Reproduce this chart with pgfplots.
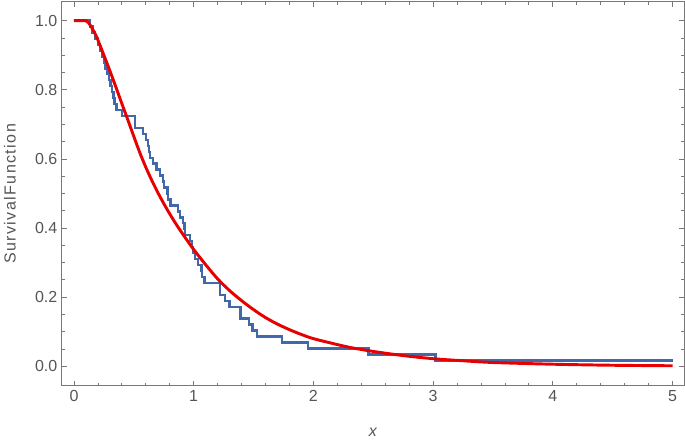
\documentclass[border=0pt]{standalone}
\usepackage{fontspec}
\setmainfont{Liberation Sans}
\usepackage{pgfplots}
\pgfplotsset{compat=1.18}
\usetikzlibrary{calc}
\definecolor{mblue}{RGB}{66,104,172}
\definecolor{mred}{RGB}{232,0,0}
\definecolor{framegray}{RGB}{120,120,120}
\definecolor{textgray}{RGB}{85,85,85}
\begin{document}
\begin{tikzpicture}
\begin{axis}[
  scale only axis, width=466.5pt, height=288pt,
  xmin=-0.1, xmax=5.096, ymin=-0.057, ymax=1.054,
  xtick={0,1,2,3,4,5}, xticklabels={0,1,2,3,4,5},
  ytick={0,0.2,0.4,0.6,0.8,1.0}, yticklabels={0.0,0.2,0.4,0.6,0.8,1.0},
  minor x tick num=4, minor y tick num=3,
  tick pos=both, tick align=inside,
  major tick length=3.75pt, minor tick length=2.25pt,
  every tick/.style={framegray, line width=0.6pt},
  axis line style={framegray, line width=0.75pt},
  tick label style={textgray, font=\fontsize{12}{14}\selectfont},
  xlabel={\itshape x},
  ylabel={SurvivalFunction},
  xlabel style={textgray, font=\fontsize{12}{14}\selectfont, at={(axis description cs:0.5,-0.1198)}, anchor=center},
  ylabel style={textgray, font=\fontsize{12}{14}\selectfont\addfontfeatures{LetterSpace=9}, at={(axis description cs:-0.0836,0.5)}, anchor=center},
  clip=false,
]
\addplot[const plot, mblue, line width=1.8pt] coordinates {
(0,1) (0.135,0.98276) (0.155,0.96552) (0.175,0.94828) (0.2,0.93103) (0.215,0.91379)
(0.235,0.89655) (0.25,0.87931) (0.265,0.86207) (0.28,0.84483) (0.295,0.82759)
(0.305,0.81034) (0.32,0.79310) (0.33,0.77586) (0.34,0.75862) (0.355,0.74138)
(0.40,0.72414) (0.51,0.68966) (0.577,0.67241) (0.60,0.65517) (0.62,0.63793)
(0.628,0.62069) (0.635,0.60345) (0.66,0.58621) (0.69,0.56897) (0.72,0.55172)
(0.745,0.53448) (0.75,0.51724) (0.78,0.5) (0.785,0.48276) (0.805,0.46552)
(0.87,0.44828) (0.885,0.43103) (0.91,0.41379) (0.925,0.39655) (0.93,0.37931)
(0.97,0.36207) (0.985,0.34483) (0.995,0.32759) (1.01,0.31034) (1.035,0.29310)
(1.065,0.27586) (1.07,0.25862) (1.09,0.24138) (1.22,0.20690) (1.26,0.18966)
(1.30,0.17241) (1.39,0.13793) (1.46,0.12069) (1.49,0.10345) (1.53,0.08621)
(1.74,0.06897) (1.955,0.05172) (2.46,0.03448) (3.02,0.01724) (5.0,0.01724)
};
\addplot[smooth, mred, line width=2.2pt] coordinates {
(0,1) (0.09,1) (0.11,0.998) (0.13,0.99) (0.15,0.979) (0.175,0.963) (0.2,0.944)
(0.25,0.900) (0.3,0.855) (0.35,0.808) (0.4,0.760) (0.45,0.713) (0.5,0.665)
(0.55,0.618) (0.6,0.576) (0.65,0.538) (0.7,0.503) (0.75,0.471) (0.8,0.441)
(0.85,0.413) (0.9,0.387) (0.95,0.362) (1.0,0.338) (1.1,0.294) (1.2,0.253)
(1.3,0.219) (1.4,0.190) (1.5,0.164) (1.6,0.141) (1.7,0.122) (1.8,0.106)
(1.9,0.092) (2.0,0.080) (2.15,0.067) (2.3,0.055) (2.5,0.043)
(2.75,0.031) (3.0,0.022) (3.25,0.016) (3.5,0.011) (4.0,0.006) (4.5,0.003) (5.0,0.0015)
};
\end{axis}
\pgfresetboundingbox
\path ($(current axis.south west)+(-46.5pt,-41.25pt)$) rectangle ($(current axis.north east)+(0.75pt,1.5pt)$);
\end{tikzpicture}
\end{document}
